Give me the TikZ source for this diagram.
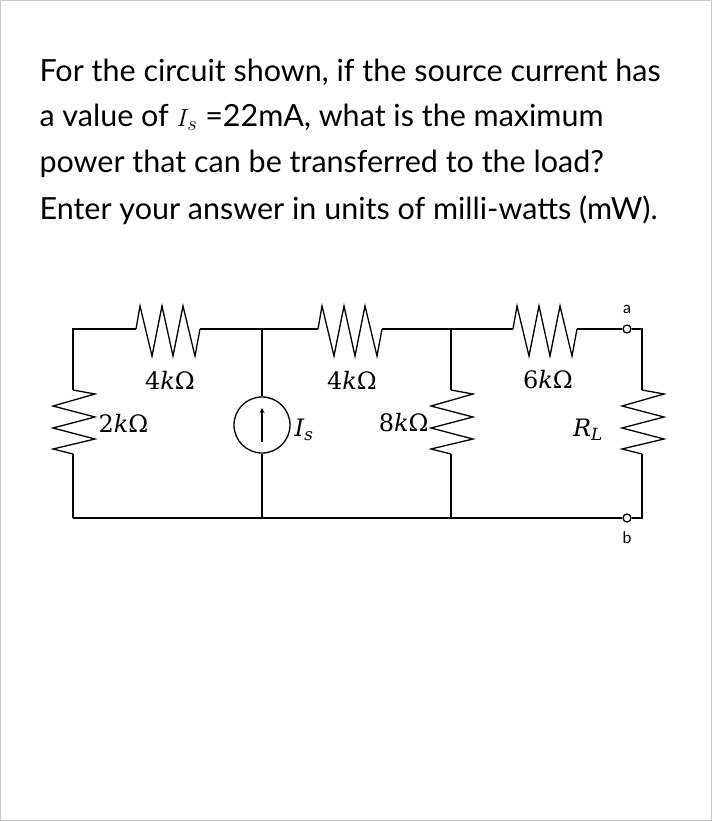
\documentclass[tikz,border=0pt]{standalone}
\usepackage{fontspec}
\setmainfont{Lato}
\newfontfamily\cfont{DejaVu Serif}
\begin{document}
\begin{tikzpicture}[x=1pt,y=-1pt,
  w/.style={line width=1.3pt,line join=miter},
  hres/.pic={\draw[w] (-32,0) -- (-28,-23) -- (-16,27) -- (-6,-23) -- (5,27) -- (15,-23) -- (27,27) -- (32,0);},
  vres/.pic={\draw[w] (0,-32) -- (22,-28) -- (-20,-16) -- (22,-5) -- (-20,6) -- (22,17) -- (-20,27) -- (0,32);},
  q/.style={anchor=base west,font=\fontsize{30.5}{32}\selectfont},
  lab/.style={font=\fontsize{24}{26}\selectfont\cfont}]
\fill[white] (0,0) rectangle (712,821);
\draw[gray!40] (0.5,0.5) rectangle (711.5,820.5);
\node[q] (t1) at (36,82) {For the circuit shown, if the source current has};
\node[q] (t2) at (36,127) {a value of $I_s$ =22mA, what is the maximum};
\node[q] (t3) at (36,172) {power that can be transferred to the load?};
\node[q] (t4) at (36,219) {Enter your answer in units of milli-watts (mW).};
\coordinate (tl) at (73,329); \coordinate (bl) at (73,518);
\coordinate (ts) at (262,329); \coordinate (bs) at (262,518);
\coordinate (t8) at (451,329); \coordinate (b8) at (451,518);
\coordinate (tr) at (642,329); \coordinate (br) at (642,518);
\node[circle,draw,line width=1.3pt,fill=white,inner sep=0pt,minimum size=8pt] (a) at (627,329) {};
\node[circle,draw,line width=1.3pt,fill=white,inner sep=0pt,minimum size=8pt] (b) at (627,518) {};
\node[circle,draw,line width=1.3pt,minimum size=56pt,inner sep=0pt] (src) at (262,425) {};
\pic at (168,329) {hres};
\pic at (350,329) {hres};
\pic at (545,329) {hres};
\pic at (73,422) {vres};
\pic at (451,422) {vres};
\pic at (642,422) {vres};
\draw[w] (73,390) -- (tl) -- (136,329);
\draw[w] (73,454) -- (bl);
\draw[w] (200,329) -- (ts) -- (318,329);
\draw[w] (382,329) -- (t8) -- (513,329);
\draw[w] (577,329) -- (a);
\draw[w] (a) -- (tr) -- (642,390);
\draw[w] (642,454) -- (br) -- (b);
\draw[w] (b) -- (bl);
\draw[w] (ts) -- (src); \draw[w] (src) -- (bs);
\draw[w] (t8) -- (451,390); \draw[w] (451,454) -- (b8);
\draw[w,-stealth] (262,442) -- (262,408);
\node[lab] (l1) at (170,380) {4\textit{k}Ω};
\node[lab] (l2) at (352,380) {4\textit{k}Ω};
\node[lab] (l3) at (548,380) {6\textit{k}Ω};
\node[lab,anchor=west] (l4) at (95,423) {2\textit{k}Ω};
\node[lab] (l5) at (304,430) {\textit{I}\textsubscript{\textit{s}}};
\node[lab,anchor=east] (l6) at (432,423) {8\textit{k}Ω};
\node[lab] (l7) at (588,430) {\textit{R}\textsubscript{\textit{L}}};
\node[font=\fontsize{16}{16}\selectfont] (la) at (627,309) {a};
\node[font=\fontsize{16}{16}\selectfont] (lb) at (627,538) {b};
\end{tikzpicture}
\end{document}
